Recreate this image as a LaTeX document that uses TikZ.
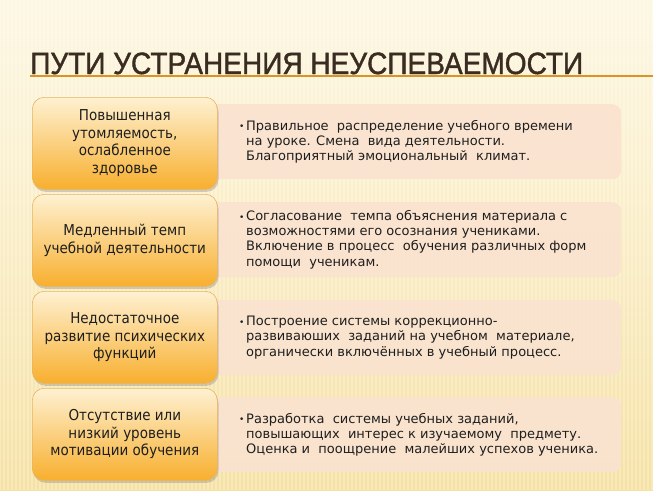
\documentclass[tikz,border=0pt]{standalone}
\usepackage{fontspec}
\setmainfont{Liberation Sans}
\newfontfamily\titlefont[FakeBold=1.4]{Liberation Sans}
\newfontfamily\causefont[FakeStretch=0.9]{DejaVu Sans}
\newfontfamily\bodyfont{DejaVu Sans}
\usetikzlibrary{shadows}
\definecolor{bgtop}{HTML}{FDF7E2}
\definecolor{bgmid}{HTML}{FAEDC4}
\definecolor{bgbot}{HTML}{F5E1A2}
\definecolor{titlecol}{HTML}{3A2C20}
\definecolor{rulecol}{HTML}{DC9326}
\definecolor{ltop}{HTML}{FEF1D2}
\definecolor{lbot}{HTML}{F8AF2E}
\definecolor{ledge}{HTML}{E9B45C}
\definecolor{rfill}{HTML}{FAE3D0}
\definecolor{txt}{HTML}{1E1E1E}
\tikzset{
  causebox/.style={rectangle, rounded corners=12pt, minimum width=185pt,
    minimum height=92pt, top color=ltop, bottom color=lbot, draw=ledge,
    line width=0.6pt, drop shadow={opacity=0.35, shadow xshift=1.2pt, shadow yshift=-2.5pt},
    align=center, font=\causefont\fontsize{15}{17.5}\selectfont, text=txt,
    anchor=north west, inner sep=0pt},
  remedybox/.style={rectangle, rounded corners=9pt, minimum width=416pt,
    minimum height=75pt, fill=rfill, fill opacity=0.9, draw=none,
    anchor=north west, inner sep=0pt},
  remedytext/.style={anchor=west, align=left, inner sep=0pt, text=txt,
    font=\bodyfont\fontsize{13}{15.2}\selectfont},
  titletext/.style={anchor=base west, inner sep=0pt, text=titlecol}
}
\newcommand{\bul}{\makebox[7pt][l]{\raisebox{0.3pt}{\small•}}}
\newcommand{\ind}{\hspace*{7pt}}
\begin{document}
\begin{tikzpicture}[x=1pt,y=-1pt]
\useasboundingbox (0,0) rectangle (653,490);
% background
\fill[top color=bgtop, bottom color=bgbot, middle color=bgmid] (0,0) rectangle (653,490);
\foreach \x in {0,4,...,652} {
  \draw[white, opacity=0.28, line width=1.4pt] (\x,0) -- (\x,490);
}
% title rule
\coordinate (ruleA) at (30,75.5);
\coordinate (ruleB) at (653,75.5);
\draw[rulecol, line width=2pt] (ruleA) -- (ruleB);
% title
\node[titletext] (title) at (30,74) {\resizebox{553pt}{21.5pt}{\titlefont\fontsize{30}{31}\selectfont ПУТИ УСТРАНЕНИЯ НЕУСПЕВАЕМОСТИ}};

% right boxes
\node[remedybox] (s1) at (205,104) {};
\node[remedybox] (s2) at (205,202) {};
\node[remedybox] (s3) at (205,300) {};
\node[remedybox] (s4) at (205,397) {};

\node[remedytext] (t1) at (239,141.5) {\bul Правильное\ \ распределение учебного времени\\
\ind на уроке. Смена\ \ вида деятельности.\\
\ind Благоприятный эмоциональный\ \ климат.};
\node[remedytext] (t2) at (239,239.5) {\bul Согласование\ \ темпа объяснения материала с\\
\ind возможностями его осознания учениками.\\
\ind Включение в процесс\ \ обучения различных форм\\
\ind помощи\ \ ученикам.};
\node[remedytext] (t3) at (239,337.5) {\bul Построение системы коррекционно-\\
\ind развиваюших\ \ заданий на учебном\ \ материале,\\
\ind органически включённых в учебный процесс.};
\node[remedytext] (t4) at (239,434.5) {\bul Разработка\ \ системы учебных заданий,\\
\ind повышающих\ \ интерес к изучаемому\ \ предмету.\\
\ind Оценка и\ \ поощрение\ \ малейших успехов ученика.};

% left boxes
\node[causebox] (c1) at (32,97) {Повышенная\\утомляемость,\\ослабленное\\здоровье};
\node[causebox] (c2) at (32,194) {Медленный темп\\учебной деятельности};
\node[causebox] (c3) at (32,291) {Недостаточное\\развитие психических\\функций};
\node[causebox] (c4) at (32,388) {Отсутствие или\\низкий уровень\\мотивации обучения};
\end{tikzpicture}
\end{document}
